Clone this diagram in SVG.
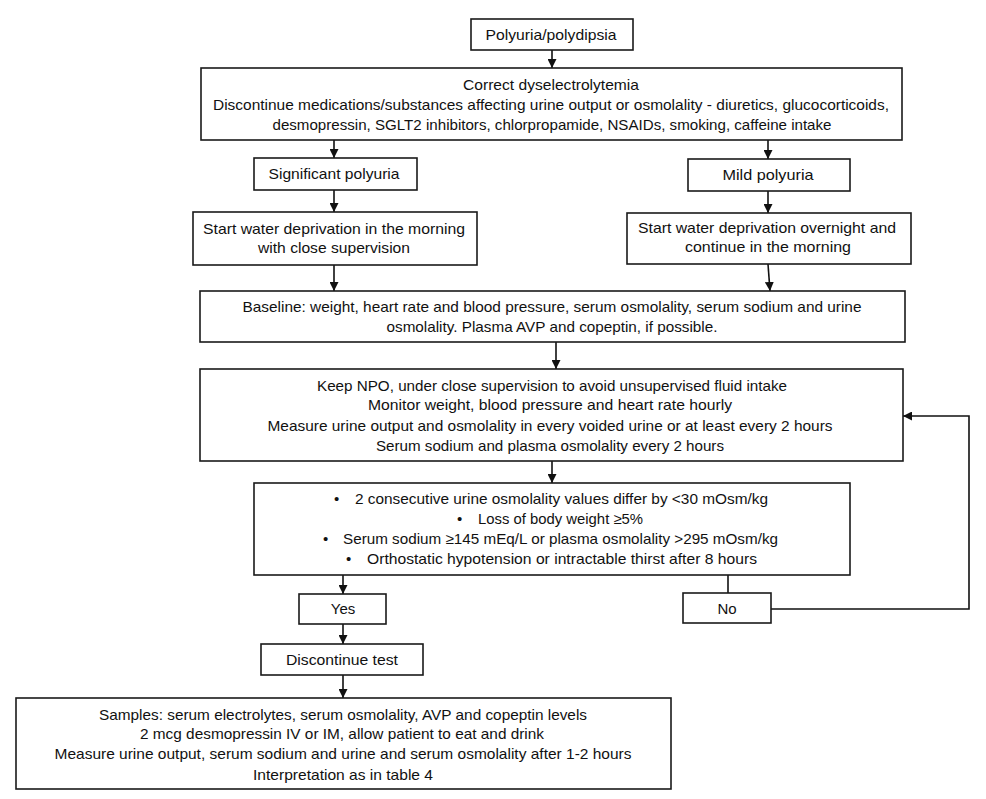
<svg xmlns="http://www.w3.org/2000/svg" width="986" height="799" viewBox="0 0 986 799">
<style>
.box{fill:#fff;stroke:#1a1a1a;stroke-width:1.6}
.t{font-family:"Liberation Sans",Arial,sans-serif;font-size:15px;fill:#111;text-anchor:middle}
.tl{font-family:"Liberation Sans",Arial,sans-serif;font-size:15px;fill:#111}
.c{fill:none;stroke:#111;stroke-width:1.6}
</style>
<defs>
<marker id="ah" viewBox="0 0 10 10" refX="10" refY="5" markerWidth="9" markerHeight="9" markerUnits="userSpaceOnUse" orient="auto">
<path d="M0,0 L10,5 L0,10 z" fill="#111"/>
</marker>
</defs>
<rect width="986" height="799" fill="#fff"/>

<g id="connectors">
<line class="c" x1="552" y1="50" x2="552" y2="68" marker-end="url(#ah)"/>
<line class="c" x1="334" y1="140" x2="334" y2="158" marker-end="url(#ah)"/>
<line class="c" x1="768" y1="140" x2="768" y2="159" marker-end="url(#ah)"/>
<line class="c" x1="334" y1="190" x2="334" y2="212" marker-end="url(#ah)"/>
<line class="c" x1="768" y1="191" x2="768" y2="213" marker-end="url(#ah)"/>
<line class="c" x1="334" y1="265" x2="334" y2="291" marker-end="url(#ah)"/>
<line class="c" x1="768" y1="264" x2="770" y2="291" marker-end="url(#ah)"/>
<line class="c" x1="556" y1="342" x2="556" y2="369" marker-end="url(#ah)"/>
<line class="c" x1="552" y1="461" x2="552" y2="483" marker-end="url(#ah)"/>
<line class="c" x1="343" y1="575" x2="343" y2="594" marker-end="url(#ah)"/>
<line class="c" x1="728" y1="575" x2="728" y2="593"/>
<line class="c" x1="343" y1="624" x2="343" y2="644" marker-end="url(#ah)"/>
<line class="c" x1="343" y1="675" x2="343" y2="698" marker-end="url(#ah)"/>
<polyline class="c" points="771,609 969,609 969,416 903,416" marker-end="url(#ah)"/>
</g>

<g id="n1">
<rect class="box" x="471" y="19" width="162" height="31"/>
<text class="t" x="551" y="40" textLength="131" lengthAdjust="spacingAndGlyphs">Polyuria/polydipsia</text>
</g>

<g id="n2">
<rect class="box" x="201" y="68" width="701" height="72"/>
<text class="t" x="551" y="90" textLength="176" lengthAdjust="spacingAndGlyphs">Correct dyselectrolytemia</text>
<text class="t" x="551" y="110" textLength="676" lengthAdjust="spacingAndGlyphs">Discontinue medications/substances affecting urine output or osmolality - diuretics, glucocorticoids,</text>
<text class="t" x="552" y="130" textLength="559" lengthAdjust="spacingAndGlyphs">desmopressin, SGLT2 inhibitors, chlorpropamide, NSAIDs, smoking, caffeine intake</text>
</g>

<g id="n3">
<rect class="box" x="254" y="158" width="163" height="32"/>
<text class="t" x="334" y="179" textLength="131" lengthAdjust="spacingAndGlyphs">Significant polyuria</text>
</g>

<g id="n4">
<rect class="box" x="688" y="159" width="162" height="32"/>
<text class="t" x="768" y="180" textLength="91" lengthAdjust="spacingAndGlyphs">Mild polyuria</text>
</g>

<g id="n5">
<rect class="box" x="193" y="212" width="284" height="53"/>
<text class="t" x="334" y="234" textLength="262" lengthAdjust="spacingAndGlyphs">Start water deprivation in the morning</text>
<text class="t" x="334" y="253" textLength="152" lengthAdjust="spacingAndGlyphs">with close supervision</text>
</g>

<g id="n6">
<rect class="box" x="627" y="213" width="284" height="51"/>
<text class="t" x="767" y="233" textLength="258" lengthAdjust="spacingAndGlyphs">Start water deprivation overnight and</text>
<text class="t" x="768" y="252" textLength="166" lengthAdjust="spacingAndGlyphs">continue in the morning</text>
</g>

<g id="n7">
<rect class="box" x="200" y="291" width="705" height="51"/>
<text class="t" x="552" y="312" textLength="619" lengthAdjust="spacingAndGlyphs">Baseline: weight, heart rate and blood pressure, serum osmolality, serum sodium and urine</text>
<text class="t" x="552" y="332" textLength="331" lengthAdjust="spacingAndGlyphs">osmolality. Plasma AVP and copeptin, if possible.</text>
</g>

<g id="n8">
<rect class="box" x="200" y="369" width="703" height="92"/>
<text class="t" x="552" y="391" textLength="470" lengthAdjust="spacingAndGlyphs">Keep NPO, under close supervision to avoid unsupervised fluid intake</text>
<text class="t" x="550" y="410" textLength="364" lengthAdjust="spacingAndGlyphs">Monitor weight, blood pressure and heart rate hourly</text>
<text class="t" x="550" y="431" textLength="565" lengthAdjust="spacingAndGlyphs">Measure urine output and osmolality in every voided urine or at least every 2 hours</text>
<text class="t" x="550" y="451" textLength="348" lengthAdjust="spacingAndGlyphs">Serum sodium and plasma osmolality every 2 hours</text>
</g>

<g id="n9">
<rect class="box" x="254" y="483" width="596" height="92"/>
<text class="tl" x="334" y="504">•</text>
<text class="tl" x="355" y="504" textLength="413" lengthAdjust="spacingAndGlyphs">2 consecutive urine osmolality values differ by &lt;30 mOsm/kg</text>
<text class="tl" x="457" y="524">•</text>
<text class="tl" x="478" y="524" textLength="165" lengthAdjust="spacingAndGlyphs">Loss of body weight ≥5%</text>
<text class="tl" x="323" y="544">•</text>
<text class="tl" x="343" y="544" textLength="435" lengthAdjust="spacingAndGlyphs">Serum sodium ≥145  mEq/L or plasma osmolality &gt;295 mOsm/kg</text>
<text class="tl" x="346" y="564">•</text>
<text class="tl" x="367" y="564" textLength="390" lengthAdjust="spacingAndGlyphs">Orthostatic hypotension or intractable thirst after 8 hours</text>
</g>

<g id="n10">
<rect class="box" x="299" y="594" width="87" height="30"/>
<text class="t" x="343" y="614">Yes</text>
</g>

<g id="n11">
<rect class="box" x="683" y="593" width="88" height="30"/>
<text class="t" x="727" y="614">No</text>
</g>

<g id="n12">
<rect class="box" x="261" y="644" width="162" height="31"/>
<text class="t" x="342" y="665" textLength="112" lengthAdjust="spacingAndGlyphs">Discontinue test</text>
</g>

<g id="n13">
<rect class="box" x="16" y="698" width="655" height="91"/>
<text class="t" x="343" y="720" textLength="488" lengthAdjust="spacingAndGlyphs">Samples: serum electrolytes, serum osmolality, AVP and copeptin levels</text>
<text class="t" x="342" y="739" textLength="404" lengthAdjust="spacingAndGlyphs">2  mcg desmopressin IV or IM, allow patient to eat and drink</text>
<text class="t" x="343" y="759" textLength="577" lengthAdjust="spacingAndGlyphs">Measure urine output, serum sodium and urine and serum osmolality after 1-2 hours</text>
<text class="t" x="343" y="780" textLength="180" lengthAdjust="spacingAndGlyphs">Interpretation as in table 4</text>
</g>
</svg>
